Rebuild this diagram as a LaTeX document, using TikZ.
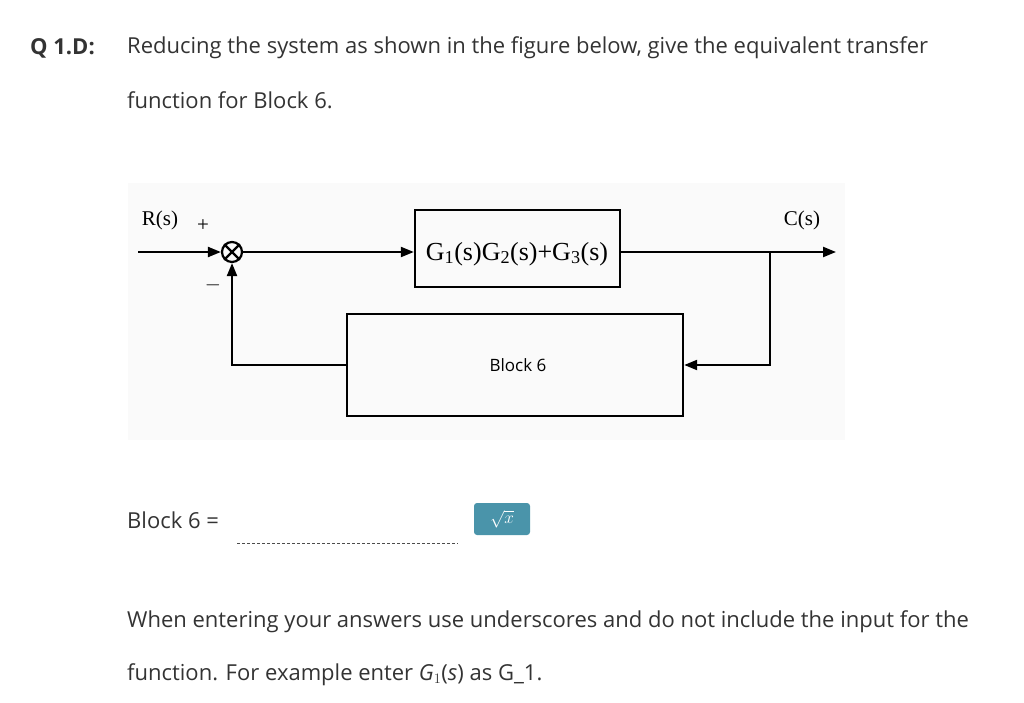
\documentclass[tikz,border=0pt]{standalone}
\usepackage{fontspec}
\setmainfont{Open Sans}
\newfontfamily\serifx{Liberation Serif}
\usetikzlibrary{arrows.meta}
\begin{document}
\begin{tikzpicture}[x=1pt,y=-1pt,
  txt/.style={anchor=west,inner sep=0pt,font=\fontsize{22}{24}\selectfont,text=black!80},
  blk/.style={draw,line width=2.4pt,inner sep=0pt},
  sig/.style={line width=2.2pt,-{Triangle[length=13pt,width=10pt]}},
  lab/.style={inner sep=0pt,font=\serifx\fontsize{21}{23}\selectfont}]
\useasboundingbox (0,0) rectangle (1024,703);
\fill[black!2] (128,183) rectangle (845,440);
\node[txt,font=\fontsize{22}{24}\selectfont\bfseries] (q) at (30,48) {Q 1.D:};
\node[txt] (t1) at (127,48) {Reducing the system as shown in the figure below, give the equivalent transfer};
\node[txt] (t2) at (127,100) {function for Block 6.};
% diagram
\node[draw,circle,line width=2.2pt,minimum size=20pt,inner sep=0pt] (sum) at (232,252) {};
\draw[line width=2.2pt] (sum.north west)--(sum.south east) (sum.north east)--(sum.south west);
\node[blk,minimum width=205pt,minimum height=77pt] (g) at (517.5,248.5) {};
\node[lab,font=\serifx\fontsize{26}{28}\selectfont] (gt) at (517,254) {G\textsubscript{1}(s)G\textsubscript{2}(s)+G\textsubscript{3}(s)};
\node[blk,minimum width=336pt,minimum height=102pt] (b6) at (515,365) {};
\node[inner sep=0pt,font=\fontsize{17}{19}\selectfont] (b6t) at (518,365) {Block 6};
\coordinate (in) at (138,252);
\coordinate (out) at (836,252);
\coordinate (br) at (770,252);
\draw[sig] (in) -- (sum.west);
\draw[sig] (sum.east) -- (g.west |- sum);
\draw[sig] (g.east |- sum) -- (out);
\draw[sig] (br) |- (b6.east);
\draw[sig] (b6.west) -| (sum.south);
\node[lab] (r) at (160,220) {R(s)};
\node[lab] (p) at (203,226) {+};
\node[lab] (m) at (213,285) {$-$};
\node[lab] (c) at (802,220) {C(s)};
% answer
\node[txt] (b6eq) at (127,520) {Block 6 =};
\coordinate (d1) at (237,543);
\coordinate (d2) at (458,543);
\draw[black!70,dash pattern=on 3pt off 2pt] (d1) -- (d2);
\node[fill={rgb,255:red,74;green,148;blue,170},rounded corners=3pt,minimum width=56pt,minimum height=32pt,text=white,font=\fontsize{18}{20}\selectfont] (btn) at (502,519) {$\sqrt{x}$};
\node[txt] (t3) at (127,622) {When entering your answers use underscores and do not include the input for the};
\node[txt] (t4) at (127,675) {function. For example enter \textit{G}$_1$(\textit{s}) as G\_1.};
\end{tikzpicture}
\end{document}
